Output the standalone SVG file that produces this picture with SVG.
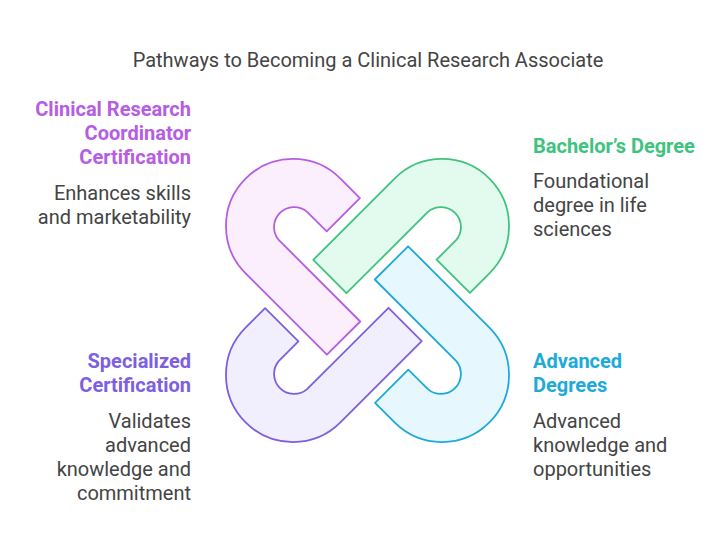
<svg xmlns="http://www.w3.org/2000/svg" width="724" height="555" viewBox="0 0 724 555">
<style>
text{font-family:Roboto,"Liberation Sans",sans-serif;font-size:20px;fill:#444}
.h{font-weight:bold}
.link{stroke-width:1.8;stroke-linejoin:round}
</style>
<defs>
<path id="hook" d="M359.9,198.1 L326.7,231.4 L307.1,211.9 A20 20 0 0 0 278.9,240.1 L360.2,321.5 L326.9,354.7 L245.6,273.4 A67 67 0 0 1 340.4,178.6 Z"/>
</defs>
<rect width="724" height="555" fill="#fff"/>
<text x="368" y="67" text-anchor="middle">Pathways to Becoming a Clinical Research Associate</text>
<g id="links">
<g id="n1"><use href="#hook" class="link" fill="#fbeffd" stroke="#b65de2"/></g>
<g id="n2"><use href="#hook" class="link" fill="#e3fbef" stroke="#3fc37e" transform="rotate(90 367.5 300.5)"/></g>
<g id="n3"><use href="#hook" class="link" fill="#e6f8fd" stroke="#1eaad9" transform="rotate(180 367.5 300.5)"/></g>
<g id="n4"><use href="#hook" class="link" fill="#f1effd" stroke="#7e5fe0" transform="rotate(270 367.5 300.5)"/></g>
</g>
<g id="l1" text-anchor="end">
<text class="h" x="191" y="116" style="fill:#b65de2">Clinical Research</text>
<text class="h" x="191" y="140" style="fill:#b65de2">Coordinator</text>
<text class="h" x="191" y="164" style="fill:#b65de2">Certification</text>
<text x="191" y="200">Enhances skills</text>
<text x="191" y="224">and marketability</text>
</g>
<g id="l2">
<text class="h" x="533" y="153" style="fill:#3fc37e">Bachelor’s Degree</text>
<text x="533" y="188">Foundational</text>
<text x="533" y="212">degree in life</text>
<text x="533" y="236">sciences</text>
</g>
<g id="l3">
<text class="h" x="533" y="368" style="fill:#1eaad9">Advanced</text>
<text class="h" x="533" y="392" style="fill:#1eaad9">Degrees</text>
<text x="533" y="428">Advanced</text>
<text x="533" y="452">knowledge and</text>
<text x="533" y="476">opportunities</text>
</g>
<g id="l4" text-anchor="end">
<text class="h" x="191" y="368" style="fill:#7e5fe0">Specialized</text>
<text class="h" x="191" y="392" style="fill:#7e5fe0">Certification</text>
<text x="191" y="428">Validates</text>
<text x="191" y="452">advanced</text>
<text x="191" y="476">knowledge and</text>
<text x="191" y="500">commitment</text>
</g>
</svg>
